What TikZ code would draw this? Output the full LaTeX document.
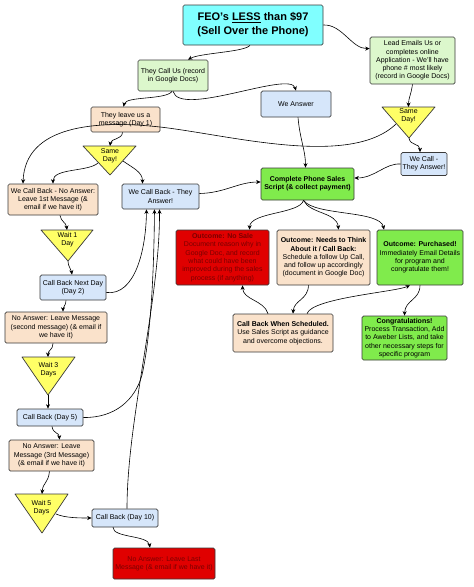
\documentclass[tikz,border=0pt]{standalone}
\usepackage{fontspec}
\setmainfont{Liberation Sans}
\usetikzlibrary{arrows.meta,calc}
\definecolor{cyanbox}{HTML}{80FFFF}
\definecolor{lgreen}{HTML}{DCF7CC}
\definecolor{peach}{HTML}{FAE2CB}
\definecolor{lblue}{HTML}{D6E6FA}
\definecolor{bgreen}{HTML}{80EB4C}
\definecolor{redbox}{HTML}{E00000}
\definecolor{redtxt}{HTML}{7A0000}
\definecolor{ybox}{HTML}{FFFF66}
\definecolor{bord}{HTML}{3A3A3A}
\begin{document}
\begin{tikzpicture}[x=1pt,y=-1pt,
 box/.style={draw=bord, line width=0.7pt, rounded corners=1.5pt, align=center, inner sep=0pt, font=\fontsize{7}{8.3}\selectfont, text=black},
 tri/.style={draw=bord, line width=0.7pt, fill=ybox, line join=round},
 trilabel/.style={align=center, inner sep=0pt, font=\fontsize{7}{8.3}\selectfont},
 arr/.style={draw=black, line width=0.6pt, -{Stealth[length=4.5pt,width=4pt]}},
]
\fill[white] (0,0) rectangle (474,587);
\useasboundingbox (0,0) rectangle (474,587);

% ---------- boxes ----------
\node[box, fill=cyanbox, minimum width=140pt, minimum height=40pt, font=\bfseries\fontsize{11}{14}\selectfont] (title) at (253,25) {FEO's \underline{LESS} than \$97\\(Sell Over the Phone)};
\node[box, fill=lgreen, minimum width=70pt, minimum height=31pt] (theyCall) at (173,75.5) {They Call Us (record\\in Google Docs)};
\node[box, fill=lgreen, minimum width=85pt, minimum height=47pt] (lead) at (412.5,60.5) {Lead Emails Us or\\completes online\\Application - We'll have\\phone \# most likely\\(record in Google Docs)};
\node[box, fill=lblue, minimum width=70pt, minimum height=26pt] (weAnswer) at (296,104) {We Answer};
\node[box, fill=peach, minimum width=69pt, minimum height=25pt] (theyLeave) at (125.5,119.5) {They leave us a\\message (Day 1)};
\node[box, fill=peach, minimum width=90pt, minimum height=31pt] (callNoAns) at (53,199.5) {We Call Back - No Answer:\\Leave 1st Message (\&\\email if we have it)};
\node[box, fill=lblue, minimum width=77pt, minimum height=25pt] (weCBThey) at (160.5,196.5) {We Call Back - They\\Answer!};
\node[box, fill=lblue, minimum width=46pt, minimum height=23pt] (weCall) at (424,164) {We Call -\\They Answer!};
\node[box, fill=bgreen, minimum width=93pt, minimum height=32pt, font=\bfseries\fontsize{7}{8.3}\selectfont] (complete) at (307.5,184) {Complete Phone Sales\\Script (\& collect payment)};
\node[box, fill=redbox, text=redtxt, minimum width=93pt, minimum height=55pt] (noSale) at (222.5,257.5) {\textbf{Outcome: No Sale}\\Document reason why in\\Google Doc, and record\\what could have been\\improved during the sales\\process (if anything)};
\node[box, fill=peach, minimum width=93pt, minimum height=55pt] (needs) at (323.5,257.5) {\textbf{Outcome: Needs to Think}\\\textbf{About it / Call Back:}\\Schedule a follow Up Call,\\and follow up accordingly\\(document in Google Doc)};
\node[box, fill=bgreen, minimum width=86pt, minimum height=55pt] (purchased) at (420,257.5) {\textbf{Outcome: Purchased!}\\Immediately Email Details\\for program and\\congratulate them!};
\node[box, fill=peach, minimum width=100pt, minimum height=38pt] (cbSched) at (283,333) {\textbf{Call Back When Scheduled.}\\Use Sales Script as guidance\\and overcome objections.};
\node[box, fill=bgreen, minimum width=85pt, minimum height=44pt] (congrats) at (404.5,338) {\textbf{Congratulations!}\\Process Transaction, Add\\to Aweber Lists, and take\\other necessary steps for\\specific program};
\node[box, fill=lblue, minimum width=66pt, minimum height=25pt] (day2) at (73,287.5) {Call Back Next Day\\(Day 2)};
\node[box, fill=peach, minimum width=102pt, minimum height=31pt] (leave2) at (56,327.5) {No Answer: Leave Message\\(second message) (\& email if\\we have it)};
\node[box, fill=lblue, minimum width=66pt, minimum height=17pt] (day5) at (50,417.5) {Call Back (Day 5)};
\node[box, fill=peach, minimum width=85pt, minimum height=31pt] (leave3) at (51.5,455.5) {No Answer: Leave\\Message (3rd Message)\\(\& email if we have it)};
\node[box, fill=lblue, minimum width=66pt, minimum height=18pt] (day10) at (125,518) {Call Back (Day 10)};
\node[box, fill=redbox, text=redtxt, minimum width=102pt, minimum height=31pt] (leaveLast) at (164,563.5) {No Answer: Leave Last\\Message (\& email if we have it)};

% ---------- decision triangles ----------
\draw[tri] (382,107) -- (435,107) -- (409,138) -- cycle;
\node[trilabel] (triR) at (408.5,116) {Same\\Day!};
\coordinate (triRtop) at (408.5,107);
\coordinate (triRbot) at (409,138);
\coordinate (triRleft) at (396,124);

\draw[tri] (83,146) -- (136,146) -- (110,175) -- cycle;
\node[trilabel] (triL) at (110,155.5) {Same\\Day!};
\coordinate (triLtop) at (110,146);
\coordinate (triLleft) at (98,163);
\coordinate (triLright) at (123,161);

\draw[tri] (41,230) -- (93,230) -- (68,261) -- cycle;
\node[trilabel] (wait1) at (67.5,240) {Wait 1\\Day};
\coordinate (wait1top) at (67,230);
\coordinate (wait1bot) at (68,261);

\draw[tri] (22,357) -- (75,357) -- (48,395) -- cycle;
\node[trilabel] (wait3) at (48.5,369.5) {Wait 3\\Days};
\coordinate (wait3top) at (48,357);
\coordinate (wait3bot) at (48,395);

\draw[tri] (15,494) -- (68,494) -- (42,533) -- cycle;
\node[trilabel] (wait5) at (41.5,507.5) {Wait 5\\Days};
\coordinate (wait5top) at (42,494);
\coordinate (wait5right) at (56,514);

% ---------- connectors ----------
\draw[arr] ($(title.south)+(-3,0)$) .. controls (245,52) and (200,53) .. ($(theyCall.north)+(15,0)$);
\draw[arr] (title.east) .. controls (342,24) and (352,49) .. ($(lead.west)+(0,-12)$);
\draw[arr] (theyCall.south) .. controls (180,118) and (290,70) .. (weAnswer.north);
\draw[arr] ($(theyCall.south)+(-1,0)$) .. controls (166,100) and (126,96) .. ($(theyLeave.north)+(-2,0)$);
\draw[arr] (lead.south) .. controls (411,95) and (408.5,98) .. (triRtop);
\draw[arr] (triRbot) .. controls (410,146) and (420,143) .. ($(weCall.north)+(-4,0)$);
\draw[arr] (triRleft) .. controls (350,168) and (230,135) .. (160,127) .. controls (97,120) and (25,125) .. ($(callNoAns.north)+(-30,0)$);
\draw[arr] ($(theyLeave.south)+(-3,0)$) .. controls (122,140) and (111,138) .. (triLtop);
\draw[arr] (triLleft) .. controls (88,172) and (53,168) .. (callNoAns.north);
\draw[arr] (triLright) .. controls (133,168) and (142.5,172) .. ($(weCBThey.north)+(-18,0)$);
\draw[arr] ($(weCBThey.east)+(0,-3)$) .. controls (225,193) and (238,182) .. ($(complete.west)+(0,-2)$);
\draw[arr] ($(weAnswer.south)+(2,0)$) .. controls (300,140) and (305.5,150) .. ($(complete.north)+(-2,0)$);
\draw[arr] (weCall.west) .. controls (385,163) and (375,178) .. ($(complete.east)+(0,-6)$);
\draw[arr] ($(complete.south)+(-4,0)$) .. controls (300,214) and (250,212) .. ($(noSale.north)+(27,0)$);
\draw[arr] ($(complete.south)+(-4,0)$) .. controls (310,214) and (337,212) .. ($(needs.north)+(15,0)$);
\draw[arr] ($(complete.south)+(-4,0)$) .. controls (315,216) and (380,210) .. ($(purchased.north)+(-36,0)$);
\draw[arr] ($(cbSched.north)+(-15,0)$) .. controls (264,300) and (243,300) .. ($(noSale.south)+(20,0)$);
\draw[arr] ($(needs.south)+(-15,0)$) .. controls (308,300) and (294,300) .. ($(cbSched.north)+(10,0)$);
\draw[arr] ($(cbSched.north)+(24,0)$) .. controls (312,298) and (395,292) .. ($(purchased.south)+(-10,0)$);
\draw[arr] (purchased.south) .. controls (420,300) and (405,300) .. (congrats.north);
\draw[arr] ($(callNoAns.south)+(7,0)$) .. controls (61,222) and (66,222) .. (wait1top);
\draw[arr] (wait1bot) .. controls (68,267) and (71,268) .. ($(day2.north)+(-1,0)$);
\draw[arr] ($(day2.east)+(0,5)$) .. controls (135,296) and (146,250) .. ($(weCBThey.south)+(-14,0)$);
\draw[arr] ($(day2.south)+(-7,0)$) .. controls (66,306) and (63,306) .. ($(leave2.north)+(7,0)$);
\draw[arr] ($(leave2.south)+(-3,0)$) .. controls (53,350) and (48,350) .. (wait3top);
\draw[arr] (wait3bot) -- ($(day5.north)+(-2,0)$);
\draw[arr] (day5.east) .. controls (115,418) and (135,400) .. (142,375) .. controls (152,330) and (154,260) .. ($(weCBThey.south)+(-6,0)$);
\draw[arr] ($(day5.south)+(2,0)$) .. controls (53,434) and (59,432) .. ($(leave3.north)+(8,0)$);
\draw[arr] ($(leave3.south)+(-2,0)$) .. controls (48,484) and (43,482) .. (wait5top);
\draw[arr] (wait5right) .. controls (65,518) and (80,518) .. (day10.west);
\draw[arr] ($(day10.north)+(2,0)$) .. controls (127,420) and (160,300) .. ($(weCBThey.south)+(-1,0)$);
\draw[arr] ($(day10.south)+(-12,0)$) .. controls (113,538) and (148,535) .. ($(leaveLast.north)+(-14,0)$);
\end{tikzpicture}
\end{document}
